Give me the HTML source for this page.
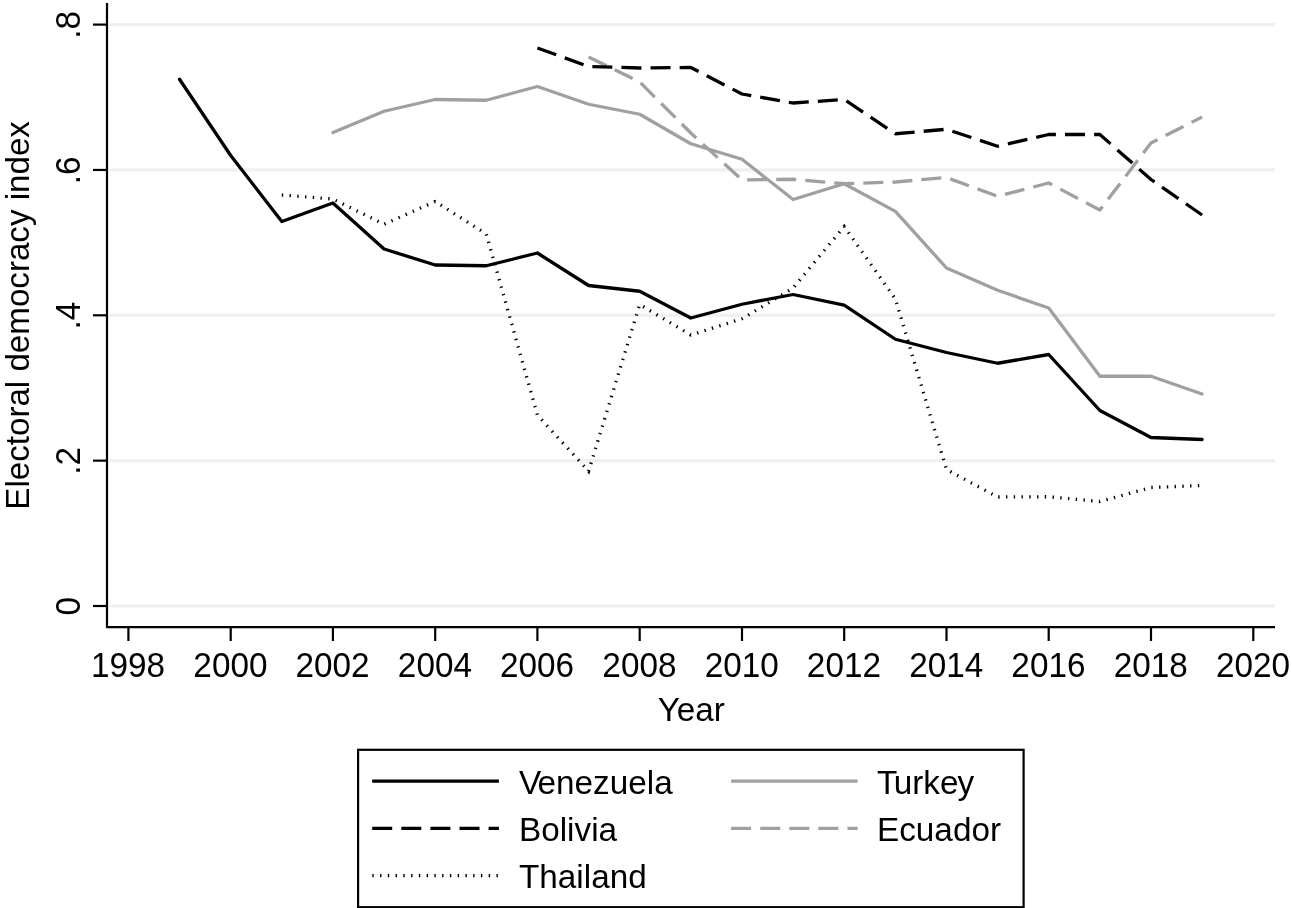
<!DOCTYPE html>
<html lang="en"><head><meta charset="utf-8"><title>Electoral democracy index</title>
<style>
html,body{margin:0;padding:0;background:#fff}
svg{display:block}
text{font-family:"Liberation Sans",Arial,Helvetica,sans-serif;font-size:33.3px;fill:#000}
</style></head><body>
<svg width="1292" height="908" viewBox="0 0 1292 908">
<rect width="1292" height="908" fill="#fff"/>
<line x1="109.3" x2="1275" y1="24.6" y2="24.6" stroke="#eaf2f3" stroke-width="3.2"/>
<line x1="109.3" x2="1275" y1="169.95" y2="169.95" stroke="#eaf2f3" stroke-width="3.2"/>
<line x1="109.3" x2="1275" y1="315.3" y2="315.3" stroke="#eaf2f3" stroke-width="3.2"/>
<line x1="109.3" x2="1275" y1="460.65" y2="460.65" stroke="#eaf2f3" stroke-width="3.2"/>
<line x1="109.3" x2="1275" y1="606.0" y2="606.0" stroke="#eaf2f3" stroke-width="3.2"/>
<polyline points="281.8,195.00 332.9,199.00 384.1,224.25 435.2,201.50 486.3,234.00 537.4,415.00 588.6,471.25 639.7,304.50 690.8,335.00 742.0,318.75 793.1,288.00 844.2,226.50 895.4,299.00 946.5,469.50 997.6,497.00 1048.7,496.75 1099.9,501.50 1151.0,487.50 1202.1,485.50" fill="none" stroke="#000" stroke-width="3.3" stroke-dasharray="1.4 6.36"/>
<polyline points="588.6,57.00 639.7,82.00 690.8,133.00 742.0,180.00 793.1,179.25 844.2,183.75 895.4,182.00 946.5,177.50 997.6,196.25 1048.7,183.00 1099.9,210.00 1151.0,143.00 1202.1,117.00" fill="none" stroke="#a0a0a0" stroke-width="3.3" stroke-dasharray="20 9.1" stroke-linejoin="round"/>
<polyline points="332.9,132.50 384.1,111.25 435.2,99.50 486.3,100.25 537.4,86.50 588.6,104.25 639.7,114.25 690.8,143.75 742.0,159.25 793.1,199.50 844.2,183.75 895.4,211.40 946.5,268.00 997.6,290.30 1048.7,308.00 1099.9,376.25 1151.0,376.25 1202.1,394.00" fill="none" stroke="#a0a0a0" stroke-width="3.3" stroke-linejoin="round" stroke-linecap="round"/>
<polyline points="537.4,48.00 588.6,66.50 639.7,68.00 690.8,67.50 742.0,94.00 793.1,103.00 844.2,99.50 895.4,133.75 946.5,129.25 997.6,146.25 1048.7,134.50 1099.9,134.50 1151.0,179.50 1202.1,215.00" fill="none" stroke="#000" stroke-width="3.3" stroke-dasharray="20 9.1" stroke-linejoin="round"/>
<polyline points="179.5,79.25 230.7,155.50 281.8,221.50 332.9,203.00 384.1,249.00 435.2,265.00 486.3,265.75 537.4,253.00 588.6,285.50 639.7,291.25 690.8,318.00 742.0,304.25 793.1,294.50 844.2,305.20 895.4,339.25 946.5,352.50 997.6,363.25 1048.7,354.50 1099.9,410.50 1151.0,437.50 1202.1,439.50" fill="none" stroke="#000" stroke-width="3.3" stroke-linejoin="round" stroke-linecap="round"/>
<path d="M107 3V627.2H1275" fill="none" stroke="#000" stroke-width="2.2" stroke-linejoin="miter"/>
<line x1="93" x2="107" y1="24.6" y2="24.6" stroke="#000" stroke-width="2.2"/>
<text transform="translate(79.6 24.90) rotate(-90) scale(1 1.07)" text-anchor="middle">.8</text>
<line x1="93" x2="107" y1="169.95" y2="169.95" stroke="#000" stroke-width="2.2"/>
<text transform="translate(79.6 170.25) rotate(-90) scale(1 1.07)" text-anchor="middle">.6</text>
<line x1="93" x2="107" y1="315.3" y2="315.3" stroke="#000" stroke-width="2.2"/>
<text transform="translate(79.6 315.60) rotate(-90) scale(1 1.07)" text-anchor="middle">.4</text>
<line x1="93" x2="107" y1="460.65" y2="460.65" stroke="#000" stroke-width="2.2"/>
<text transform="translate(79.6 460.95) rotate(-90) scale(1 1.07)" text-anchor="middle">.2</text>
<line x1="93" x2="107" y1="606.0" y2="606.0" stroke="#000" stroke-width="2.2"/>
<text transform="translate(79.6 606.30) rotate(-90) scale(1 1.07)" text-anchor="middle">0</text>
<line x1="128.4" x2="128.4" y1="627" y2="641" stroke="#000" stroke-width="2.2"/>
<text transform="translate(128.1 677.4) scale(1 1.07)" text-anchor="middle">1998</text>
<line x1="230.7" x2="230.7" y1="627" y2="641" stroke="#000" stroke-width="2.2"/>
<text transform="translate(230.4 677.4) scale(1 1.07)" text-anchor="middle">2000</text>
<line x1="332.9" x2="332.9" y1="627" y2="641" stroke="#000" stroke-width="2.2"/>
<text transform="translate(332.6 677.4) scale(1 1.07)" text-anchor="middle">2002</text>
<line x1="435.2" x2="435.2" y1="627" y2="641" stroke="#000" stroke-width="2.2"/>
<text transform="translate(434.9 677.4) scale(1 1.07)" text-anchor="middle">2004</text>
<line x1="537.4" x2="537.4" y1="627" y2="641" stroke="#000" stroke-width="2.2"/>
<text transform="translate(537.1 677.4) scale(1 1.07)" text-anchor="middle">2006</text>
<line x1="639.7" x2="639.7" y1="627" y2="641" stroke="#000" stroke-width="2.2"/>
<text transform="translate(639.4 677.4) scale(1 1.07)" text-anchor="middle">2008</text>
<line x1="742.0" x2="742.0" y1="627" y2="641" stroke="#000" stroke-width="2.2"/>
<text transform="translate(741.7 677.4) scale(1 1.07)" text-anchor="middle">2010</text>
<line x1="844.2" x2="844.2" y1="627" y2="641" stroke="#000" stroke-width="2.2"/>
<text transform="translate(843.9 677.4) scale(1 1.07)" text-anchor="middle">2012</text>
<line x1="946.5" x2="946.5" y1="627" y2="641" stroke="#000" stroke-width="2.2"/>
<text transform="translate(946.2 677.4) scale(1 1.07)" text-anchor="middle">2014</text>
<line x1="1048.7" x2="1048.7" y1="627" y2="641" stroke="#000" stroke-width="2.2"/>
<text transform="translate(1048.4 677.4) scale(1 1.07)" text-anchor="middle">2016</text>
<line x1="1151.0" x2="1151.0" y1="627" y2="641" stroke="#000" stroke-width="2.2"/>
<text transform="translate(1150.7 677.4) scale(1 1.07)" text-anchor="middle">2018</text>
<line x1="1253.3" x2="1253.3" y1="627" y2="641" stroke="#000" stroke-width="2.2"/>
<text transform="translate(1253.0 677.4) scale(1 1.07)" text-anchor="middle">2020</text>
<text transform="translate(691.3 720.8) scale(1 1.02)" text-anchor="middle">Year</text>
<text transform="translate(29 315.4) rotate(-90) scale(1 1.02)" text-anchor="middle" style="font-size:33.15px">Electoral democracy index</text>
<rect x="358.1" y="749.8" width="665.5" height="157.4" fill="#fff" stroke="#000" stroke-width="2.2"/>
<line x1="372.2" x2="498.9" y1="781.2" y2="781.2" stroke="#000" stroke-width="3.3"/>
<line x1="372.2" x2="498.9" y1="828.4" y2="828.4" stroke="#000" stroke-width="3.3" stroke-dasharray="20 9.1"/>
<line x1="372.3" x2="498.9" y1="875.6" y2="875.6" stroke="#000" stroke-width="3.3" stroke-dasharray="1.4 6.36"/>
<line x1="731.1" x2="857.6" y1="781.2" y2="781.2" stroke="#a0a0a0" stroke-width="3.3"/>
<line x1="731.1" x2="857.6" y1="828.4" y2="828.4" stroke="#a0a0a0" stroke-width="3.3" stroke-dasharray="20 9.1"/>
<text transform="translate(519 793.8) scale(1 1.02)" dx="0 -1.8">Venezuela</text>
<text transform="translate(519 841.0) scale(1 1.02)">Bolivia</text>
<text transform="translate(519 888.4) scale(1 1.02)">Thailand</text>
<text transform="translate(877 793.8) scale(1 1.02)" dx="0 -2.4 0 0 0 -1">Turkey</text>
<text transform="translate(877 841.0) scale(1 1.02)">Ecuador</text>
</svg></body></html>
